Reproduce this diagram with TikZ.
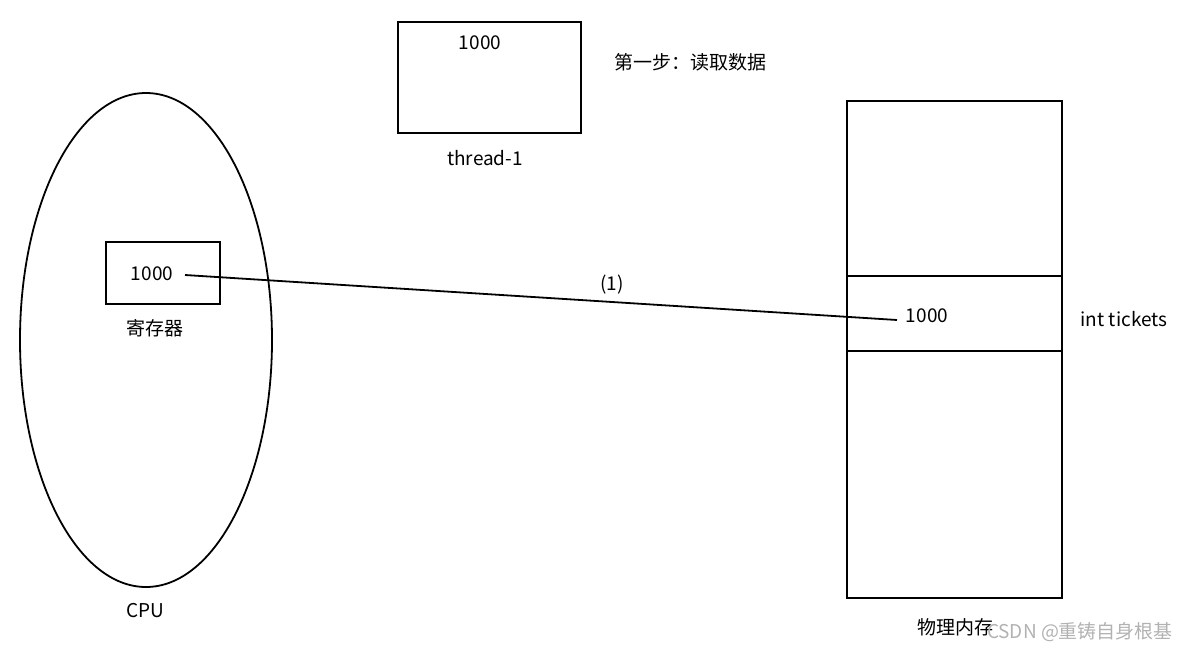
\documentclass[tikz,border=0pt]{standalone}
\usepackage{fontspec}
\setmainfont{Noto Sans CJK SC}
\begin{document}
\begin{tikzpicture}[x=1pt,y=-1pt,line width=1.8pt,
  lbl/.style={font=\fontsize{19}{22}\selectfont,inner sep=0pt}]
\useasboundingbox (0,0) rectangle (1194,651);
\fill[white] (0,0) rectangle (1194,651);
\draw (146,340) ellipse [x radius=126, y radius=247];
\node[draw,minimum width=114pt,minimum height=62pt,inner sep=0pt] (reg) at (163,273) {};
\node[lbl] (r1000) at (152,274) {1000};
\coordinate (a) at (185,275);
\node[lbl] (regl) at (155,328) {寄存器};
\node[lbl] (cpu) at (145,611) {CPU};
\node[draw,minimum width=183pt,minimum height=111pt,inner sep=0pt] (th) at (489.5,77.5) {};
\node[lbl] (t1000) at (480,43) {1000};
\node[lbl] (thl) at (485,158) {thread-1};
\node[lbl] (step) at (690,62) {第一步：读取数据};
\node[draw,minimum width=215pt,minimum height=497pt,inner sep=0pt] (mem) at (954.5,349.5) {};
\draw (847,276) -- (1062,276);
\draw (847,351) -- (1062,351);
\node[lbl] (m1000) at (927,316) {1000};
\coordinate (b) at (897,320);
\node[lbl] (it) at (1124,319) {int tickets};
\node[lbl] (meml) at (955,627) {物理内存};
\draw (a) -- (b);
\node[lbl] (one) at (612,285) {(1)};
\node[lbl,text=gray!60] (wm) at (1080,632) {CSDN @重铸自身根基};
\end{tikzpicture}
\end{document}
